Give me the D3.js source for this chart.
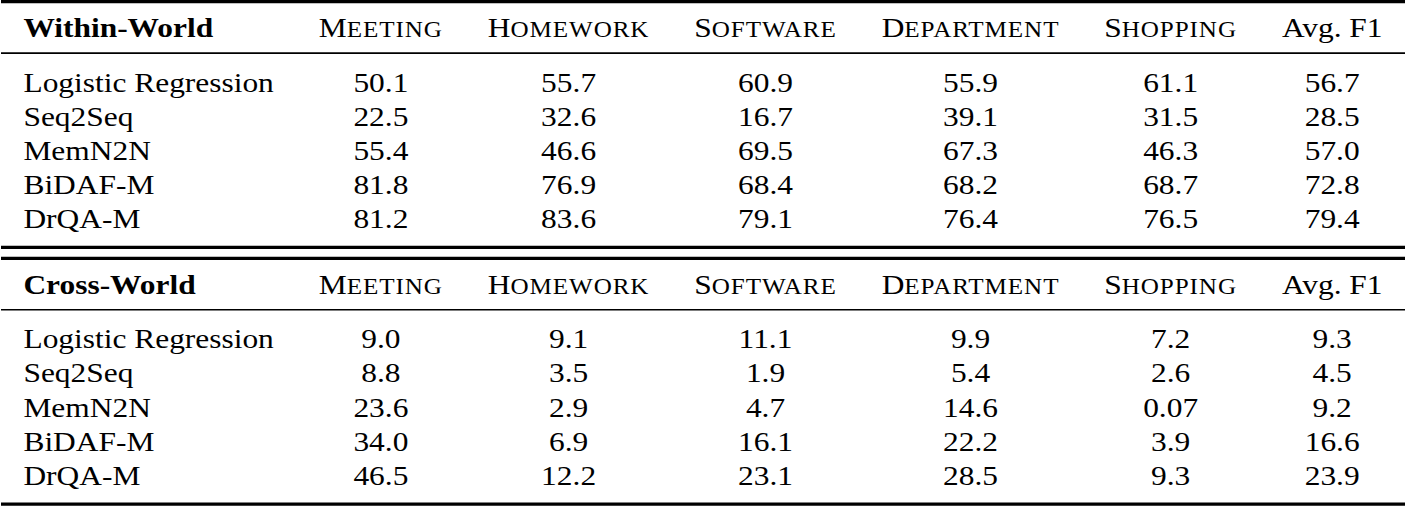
<!DOCTYPE html>
<html>
    <head>
        <title>Within-World / Cross-World F1</title>
        <meta charset="UTF-8">
        <script src="https://cdnjs.cloudflare.com/ajax/libs/d3/7.9.0/d3.min.js"></script>
        <style>
            html, body {
                margin: 0;
                padding: 0;
                background: #fff;
            }
        </style>
    </head>
    <body>
        <div class="table-container"></div>
        <script>
            // column headers (small caps except the last one)
            const columns = ["Meeting", "Homework", "Software", "Department", "Shopping", "Avg. F1"];
            const smallCaps = [true, true, true, true, true, false];
            const models = ["Logistic Regression", "Seq2Seq", "MemN2N", "BiDAF-M", "DrQA-M"];

            // F1 scores, one row per model
            const withinWorld = [
                ["50.1", "55.7", "60.9", "55.9", "61.1", "56.7"],
                ["22.5", "32.6", "16.7", "39.1", "31.5", "28.5"],
                ["55.4", "46.6", "69.5", "67.3", "46.3", "57.0"],
                ["81.8", "76.9", "68.4", "68.2", "68.7", "72.8"],
                ["81.2", "83.6", "79.1", "76.4", "76.5", "79.4"]
            ];
            const crossWorld = [
                ["9.0", "9.1", "11.1", "9.9", "7.2", "9.3"],
                ["8.8", "3.5", "1.9", "5.4", "2.6", "4.5"],
                ["23.6", "2.9", "4.7", "14.6", "0.07", "9.2"],
                ["34.0", "6.9", "16.1", "22.2", "3.9", "16.6"],
                ["46.5", "12.2", "23.1", "28.5", "9.3", "23.9"]
            ];
            const blockTitles = ["Within-World", "Cross-World"];
            const blockRows = [withinWorld, crossWorld];

            let w = 1408;
            let h = 509;
            let fontSize = 28;
            let scRatio = 0.8;
            let pad = 20;
            let left = 1;
            let right = 1405;
            let serif = "'Liberation Serif'";

            let svg = d3.select(".table-container").append("svg")
                    .attr("width", w)
                    .attr("height", h);

            let g = svg.append("g");
            let rules = svg.append("g");

            function newText(parent){
                return parent.append("text")
                    .style("font-family", serif)
                    .style("font-size", fontSize + "px")
                    .style("fill", "#000");
            }

            function addHeader(sel, name, sc){
                if(!sc){
                    sel.append("tspan").text(name);
                    return;
                }
                sel.append("tspan").text(name[0].toUpperCase());
                sel.append("tspan")
                    .style("font-size", (fontSize * scRatio) + "px")
                    .style("letter-spacing", "0.8px")
                    .text(name.slice(1).toUpperCase());
            }

            // measure texts to get natural column widths (like a tabular)
            let probe = g.append("g");
            function measure(fn){
                let t = newText(probe);
                fn(t);
                let len = t.node().getComputedTextLength();
                t.remove();
                return len;
            }
            let labelW = d3.max(models.concat(blockTitles), m => measure(t => {
                t.text(m);
                if(blockTitles.includes(m)) t.style("font-weight", "bold");
            }));
            let colW = columns.map((c, i) => {
                let hw = measure(t => addHeader(t, c, smallCaps[i]));
                let vw = d3.max(blockRows, rows => d3.max(rows, r => measure(t => t.text(r[i]))));
                return Math.max(hw, vw);
            });
            probe.remove();

            let widths = [labelW].concat(colW).map(d => d + 2 * pad);
            let natural = d3.sum(widths);
            let sx = (right - left) / natural;
            g.attr("transform", "translate(" + left + ",0) scale(" + sx + ",1)");

            let starts = d3.cumsum([0].concat(widths)).slice(0, widths.length);
            let xCol = d3.scaleOrdinal()
                    .domain(columns)
                    .range(columns.map((c, i) => starts[i + 1] + widths[i + 1] / 2));

            let blockTop = [1.65, 258.3];
            let heavy = 3.2;
            let light = 1.6;

            blockTitles.forEach((title, b) => {
                let top = blockTop[b];
                let rows = blockRows[b];
                let y = d3.scaleLinear()
                        .domain([0, models.length - 1])
                        .range([top + 90, top + 90 + 34.2 * (models.length - 1)]);

                let block = g.append("g");

                newText(block)
                    .attr("x", pad)
                    .attr("y", top + 35.7)
                    .style("font-weight", "bold")
                    .text(title);

                columns.forEach((c, i) => {
                    let t = newText(block)
                        .attr("x", xCol(c))
                        .attr("y", top + 35.7)
                        .attr("text-anchor", "middle");
                    addHeader(t, c, smallCaps[i]);
                });

                models.forEach((m, ri) => {
                    newText(block)
                        .attr("x", pad)
                        .attr("y", y(ri))
                        .text(m);
                    rows[ri].forEach((v, i) => {
                        newText(block)
                            .attr("x", xCol(columns[i]))
                            .attr("y", y(ri))
                            .attr("text-anchor", "middle")
                            .text(v);
                    });
                });

                // booktabs-like rules
                let lines = [
                    {y: top, sw: heavy},
                    {y: top + 51.5, sw: light},
                    {y: y(models.length - 1) + 19, sw: heavy}
                ];
                rules.selectAll(null)
                    .data(lines)
                    .join("line")
                    .attr("x1", left)
                    .attr("x2", right)
                    .attr("y1", d => d.y)
                    .attr("y2", d => d.y)
                    .attr("stroke", "#000")
                    .attr("stroke-width", d => d.sw);
            });
        </script>
    </body>
</html>
